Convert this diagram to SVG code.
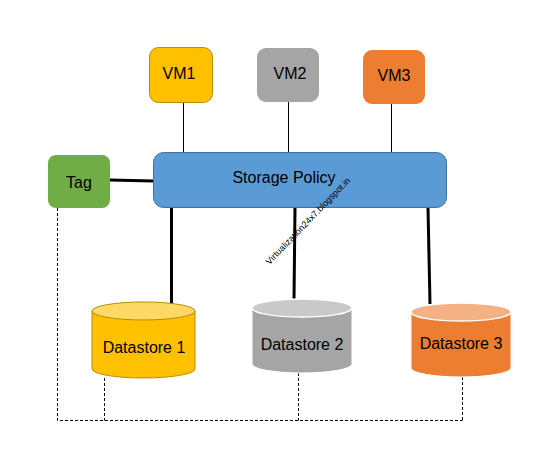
<svg xmlns="http://www.w3.org/2000/svg" width="546" height="451" viewBox="0 0 546 451">
<style>
text{font-family:"Liberation Sans",Arial,sans-serif;font-size:16px;fill:#000;text-anchor:middle;dominant-baseline:central}
.thin{stroke:#000;stroke-width:1;fill:none}
.thick{stroke:#000;stroke-width:3;fill:none}
.dash{stroke:#000;stroke-width:1;stroke-dasharray:3,2;fill:none}
</style>
<rect width="546" height="451" fill="#fff"/>
<g id="connectors">
<line class="thin" x1="183.5" y1="103" x2="183.5" y2="152"/>
<line class="thin" x1="288.5" y1="102" x2="288.5" y2="152"/>
<line class="thin" x1="391.5" y1="104" x2="391.5" y2="152"/>
<line class="thick" x1="110" y1="180" x2="153" y2="181"/>
<line class="thick" x1="171.5" y1="208" x2="171.5" y2="304"/>
<line class="thick" x1="295" y1="208" x2="294" y2="300"/>
<line class="thick" x1="428" y1="208" x2="430" y2="304"/>
<path class="dash" d="M57.5 208 V420.5 H462.5 M104.5 378 V420.5 M298.5 373 V420.5 M462.5 377 V420.5"/>
</g>
<g id="vm1"><rect x="149.5" y="47.5" width="63" height="55" rx="9" fill="#FFC000" stroke="#BC8C00"/><text x="179" y="73">VM1</text></g>
<g id="vm2"><rect x="257" y="48" width="62" height="54" rx="9" fill="#A5A5A5"/><text x="290" y="73">VM2</text></g>
<g id="vm3"><rect x="363" y="50" width="62" height="54" rx="9" fill="#ED7D31"/><text x="394" y="75">VM3</text></g>
<g id="tag"><rect x="48" y="155" width="62" height="53" rx="8" fill="#70AD47"/><text x="79" y="182">Tag</text></g>
<g id="policy"><rect x="153.5" y="152.5" width="293" height="55" rx="10" fill="#5B9BD5" stroke="#41719C"/><text x="284" y="177">Storage Policy</text></g>
<g id="ds1">
<path d="M92 311 V369 A51.5 9 0 0 0 195 369 V311" fill="#FFC000" stroke="#BC8C00"/>
<ellipse cx="143.5" cy="311" rx="51.5" ry="9" fill="#FFD966" stroke="#BC8C00"/>
<text x="144" y="347">Datastore 1</text>
</g>
<g id="ds2">
<path d="M252 308 V364 A50 9 0 0 0 352 364 V308" fill="#A5A5A5" stroke="#fff"/>
<ellipse cx="302" cy="308" rx="50" ry="9" fill="#C9C9C9" stroke="#fff" stroke-width="1.5"/>
<text x="302" y="344">Datastore 2</text>
</g>
<g id="ds3">
<path d="M411 312 V368 A50 9 0 0 0 511 368 V312" fill="#ED7D31" stroke="#fff"/>
<ellipse cx="461" cy="312" rx="50" ry="9" fill="#F4B183" stroke="#fff" stroke-width="1.5"/>
<text x="461" y="343">Datastore 3</text>
</g>
<text x="308" y="221" transform="rotate(-46 308 221)" style="font-size:9px">Virtualization24x7.blogspot.in</text>
</svg>
